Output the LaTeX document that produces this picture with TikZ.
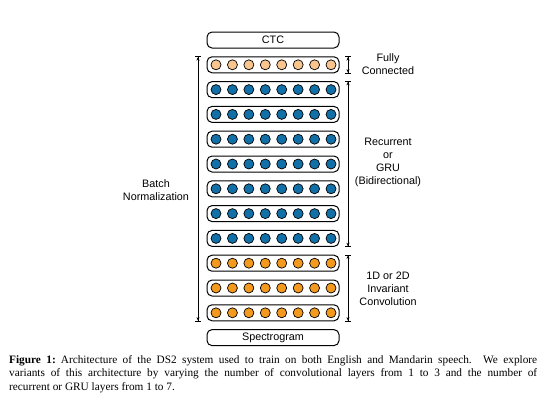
\documentclass[tikz,border=0pt]{standalone}
\usepackage{fontspec}
\setmainfont{Liberation Serif}
\newfontfamily\hv{Liberation Sans}
\usetikzlibrary{arrows.meta,calc}
\definecolor{fcfill}{HTML}{F8C58E}
\definecolor{rnnfill}{HTML}{1170A8}
\definecolor{convfill}{HTML}{F39A1E}
\begin{document}
\begin{tikzpicture}[x=1pt,y=-1pt,
  layerbox/.style={draw=black, line width=1pt, rounded corners=5pt, minimum width=132pt, minimum height=16pt, inner sep=0pt, font=\hv\fontsize{10.8}{13}\selectfont},
  unit/.style={circle, draw=black, line width=0.7pt, minimum size=10pt, inner sep=0pt},
  dimarrow/.style={line width=0.7pt, {Bar[width=6pt]Stealth[length=3.5pt,width=3pt]}-{Stealth[length=3.5pt,width=3pt]Bar[width=6pt]}},
  lbl/.style={font=\hv\fontsize{10.8}{13}\selectfont, align=center}]
\useasboundingbox (0,0) rectangle (545,408);
% layer boxes
\node[layerbox] (ctc) at (273,40) {CTC};
\node[layerbox] (fc) at (273,64.8) {};
\foreach \k in {1,...,7}{
  \node[layerbox] (r\k) at ({273},{64.8+24.8*\k}) {};
}
\foreach \k in {1,2,3}{
  \node[layerbox] (c\k) at ({273},{64.8+24.8*(7+\k)}) {};
}
\node[layerbox] (spec) at (273,337.6) {Spectrogram};
% units
\foreach \i in {0,...,7}{
  \node[unit, fill=fcfill] (fc-\i) at ({216+16.43*\i},{64.8}) {};
}
\foreach \k in {1,...,7}{
  \foreach \i in {0,...,7}{
    \node[unit, fill=rnnfill] (r\k-\i) at ({216+16.43*\i},{64.8+24.8*\k}) {};
  }
}
\foreach \k in {1,2,3}{
  \foreach \i in {0,...,7}{
    \node[unit, fill=convfill] (c\k-\i) at ({216+16.43*\i},{64.8+24.8*(7+\k)}) {};
  }
}
% dimension arrows
\coordinate (bnx) at (198,0);
\coordinate (rx) at (348,0);
\draw[dimarrow] (bnx |- fc.north) -- (bnx |- c3.south);
\draw[dimarrow] (rx |- fc.north) -- (rx |- fc.south);
\draw[dimarrow] (rx |- r1.north) -- (rx |- r7.south);
\draw[dimarrow] (rx |- c1.north) -- (rx |- c3.south);
% labels
\node[lbl] (lfc) at (388,64.5) {Fully\\Connected};
\node[lbl] (lrnn) at (388,162.5) {Recurrent\\or\\GRU\\(Bidirectional)};
\node[lbl] (lconv) at (388,288.5) {1D or 2D\\Invariant\\Convolution};
\node[lbl] (lbn) at (156,190.5) {Batch\\Normalization};
% caption
\node[anchor=north west, inner sep=0pt, text width=528pt, align=justify, font=\fontsize{11.3}{13.6}\selectfont] (cap) at (9,355) {\textbf{Figure 1:}\hspace{0.45em}Architecture of the DS2 system used to train on both English and Mandarin speech.  We explore\linebreak variants of this architecture by varying the number of convolutional layers from 1 to 3 and the number of\linebreak recurrent or GRU layers from 1 to 7.};
\end{tikzpicture}
\end{document}
